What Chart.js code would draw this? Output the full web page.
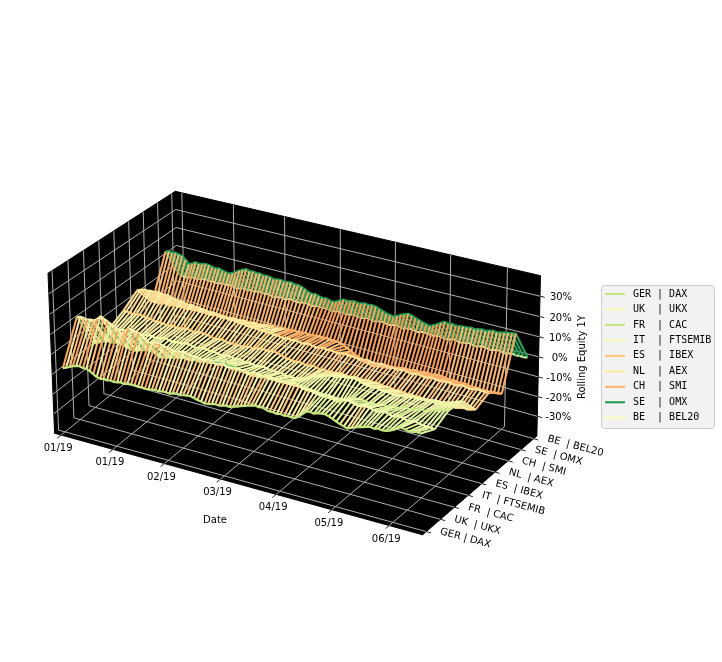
<!DOCTYPE html>
<html><head><meta charset="utf-8">
<style>html,body{margin:0;padding:0;background:#fff}canvas{display:block}</style>
<script src="https://cdn.jsdelivr.net/npm/chart.js@4"></script>
</head><body><canvas id="c" width="722" height="662" style="width:722px;height:662px"></canvas>
<script>
const seriesLabels=["GER | DAX","UK  | UKX","FR  | CAC","IT  | FTSEMIB","ES  | IBEX","NL  | AEX","CH  | SMI","SE  | OMX","BE  | BEL20"];
const seriesColors=["#c5e67e","#f9fcb6","#c5e67e","#f3f9ac","#fdc675","#fee99d","#fdb265","#199750","#feffbe"];
const xTickLabels=["01/19","01/19","02/19","03/19","04/19","05/19","06/19"];
const xTickDays=[-0.1,15.3,30.3,46.3,61.8,77,92.3];
const zTicks=[-30,-20,-10,0,10,20,30];
const GER=[-7.5,-6.8,-6,-5.2,-4.6,-4.3,-4.8,-4.7,-5.4,-6.5,
-7.5,-7.9,-7.5,-7.8,-7.4,-7.7,-7.4,-7,-7.3,-6.8,
-6.7,-6.5,-6.9,-6.6,-7,-6.8,-6.6,-6.2,-6.5,-6.1,
-6,-6.3,-5.7,-5.3,-5.6,-5.2,-4.9,-4.8,-5.2,-5.7,
-6,-6.5,-6.3,-5.9,-5.5,-5.7,-5.1,-4.8,-5,-4.4,
-3.9,-3.2,-2.6,-2,-1.6,-1,-1.4,-1.1,-1.7,-2.1,
-2,-2.4,-1.9,-2.3,-2,-2.2,-2,-0.8,0.9,2.5,
2.8,2.4,3.1,3.3,3.5,3,2.2,1.4,0.6,0,
-0.5,0.2,0.9,1.6,2,2.6,3,2.6,3.2,2.9,
3,3.6,4.4,5.6,6.5,6.1,5.6,5.9,6.3,6];
const UK=[12.75,13.2,13,12.6,13.1,13,14.2,16,15.2,14.4,
13.4,12.2,11,10,11.7,13.5,13.1,12.6,12.4,11.4,
10,8.7,9.4,10,9.6,9.3,8.8,8.5,8.1,8,
8.3,8.7,8.2,7.6,8,7.4,7,7.5,7.9,7.3,
6.8,7.2,7.6,7,6.6,6.9,7.4,7.1,7,6.6,
6.9,7.3,7,6.5,6.8,7.1,6.6,6.2,6.5,6.7,
6.3,6.7,7,6.4,5.9,5.5,5.8,5.2,5,4.7,
5.2,5.6,5,4.6,5,5.4,5.7,5.2,4.7,4.3,
4.6,5.1,4.8,4.2,3.9,4.3,4.7,4.1,3.6,3.9,
4.2,3.8,3.3,3.6,3.9,3.4,3,2.7,2.9,2.5];
const FR=[-6.5,-5.7,-4.9,-4,-3.3,-3.6,-3.2,-2.9,-3,-3.5,
-4,-4.5,-4.7,-4.2,-3.6,-3,-2.7,-2.5,-3.2,-4,
-4.6,-4.2,-3.7,-3.1,-2.7,-2.4,-2,-1.8,-2.2,-1.7,
-1.3,-1.6,-1,-0.6,-0.9,-0.4,0,0.4,0.2,0.7,
1,0.6,0.1,-0.5,-1,-1.4,-1.75,-1.3,-1.6,-1.1,
-0.8,-1.2,-1,-0.6,-0.9,-1.3,-0.8,-0.5,-0.9,-1.2,
-1,-0.7,-1.2,-1.6,-1.3,-1.7,-2.2,-2,-2.6,-3.2,
-3.5,-2.6,-1.5,-0.5,0.5,0.2,0.6,0.1,-0.3,0.2,
-0.25,0.3,0.7,0.4,0.9,1.3,1,1.6,2,1.8,
2.4,2.75,3.2,2.9,3.6,4.2,4.7,5.2,5.6,6];
const IT=[-5,-4.5,-4,-3.6,-3.2,-3.4,-3,-2.6,-3,-3.5,
-3.1,-2.7,-2.3,-2.6,-3,-2.5,-2.1,-1.8,-2.3,-2.7,
-2.4,-2.2,-2,-1.6,-1.9,-2.3,-2.6,-2.2,-1.8,-2,
-2.4,-2.1,-2.6,-3,-2.7,-2.3,-2.6,-3.1,-2.8,-3,
-3.4,-3.1,-3.5,-3.9,-3.5,-3.2,-3.6,-4.1,-4,-4.4,
-4.1,-4.6,-4.9,-4.6,-5,-4.6,-4.1,-3.5,-2.6,-1.8,
-1.2,-0.6,0.1,0.7,1.2,0.9,1.6,2.2,2,2.6,
3,2.4,1.7,1.1,0.8,0.5,0.9,0.4,0,0.3,
-0.1,-0.4,-0.2,0.3,0.1,0.6,1,0.7,1.1,1.5,
1.2,1.7,2.1,1.9,2.2,2.5,3,3.6,4.3,5];
const ES=[-1,-0.6,-0.9,-1.3,-0.8,-0.5,-1,-1.4,-1.3,-1.7,
-2,-1.7,-2,-2.4,-2.1,-1.9,-2.3,-2.2,-1.8,-1.5,
-1.9,-2.3,-1.8,-1.6,-1.9,-2,-2.5,-2.9,-2.6,-2.4,
-2.8,-3.2,-3,-3.4,-3.1,-3.3,-2.9,-2.5,-2.8,-2.2,
-2,-1.7,-2.1,-1.8,-1.5,-2,-2.6,-3,-3.5,-3.8,
-4,-3.6,-3.9,-4.3,-4,-3.7,-4.1,-4.5,-4.2,-4.6,
-4.3,-4.5,-4.1,-3.8,-4.2,-4.6,-4.3,-3.9,-4.2,-4.5,
-4.1,-3.8,-4.2,-4,-4.4,-4.8,-4.5,-5,-5.3,-4.9,
-5.2,-5.6,-5.3,-5.7,-5.4,-5.8,-6.1,-5.7,-6,-6.4,
-6.1,-6.5,-6.2,-5.8,-6.1,-5.6,-5.2,-5.5,-4.9,-4.5];
const NL=[4.5,5.2,5.8,5.6,6,5.8,6.3,6.1,5.7,6,
5.4,5,4.5,4.7,4,3.7,4,3.5,3.7,3.3,
3,2.6,2.9,2.4,1.9,1.6,1.9,1.4,1.7,1.2,
0.9,1.2,0.7,0.4,0.7,0.4,0,0.2,-0.2,0,
-0.4,-0.2,-0.6,-0.9,-0.6,-0.9,-0.5,-0.8,-1.1,-0.8,
-0.6,-1,-1.4,-1,-0.7,-1.1,-0.8,-1.2,-1.5,-1.1,
-0.8,-1.2,-0.9,-1.3,-1.7,-1.4,-1,-1.4,-1.8,-1.5,
-1.1,-1.5,-1.9,-1.6,-2,-1.7,-1.3,-1.7,-2.1,-1.8,
-1.4,-1.8,-2.2,-1.9,-1.5,-1.9,-2.2,-1.8,-1.5,-1.9,
-2.2,-1.8,-1.4,-1.8,-2.1,-1.7,-1.3,-1.6,-1.9,-1.5];
const CH=[-7.5,-7.1,-7.4,-6.8,-6.5,-6.9,-6.6,-6.2,-6.5,-6.2,
-6.5,-6,-6.3,-5.9,-5.7,-6.1,-5.8,-6.2,-6,-5.7,
-5.8,-5.6,-5.2,-5.5,-5.1,-4.8,-5.2,-4.8,-4.5,-4.9,
-4.4,-4.2,-4.5,-4.1,-3.8,-3.5,-3.5,-4,-3.5,-3.3,
-3.6,-3.2,-2.9,-3.3,-2.9,-2.6,-3,-2.8,-2.75,-2.4,
-2.7,-2.3,-2.6,-2.9,-2.7,-3.3,-4.1,-5,-6,-7.1,
-7.9,-8.7,-9.5,-10.1,-10.5,-10.2,-9.7,-9.9,-9.4,-9,
-8.7,-8.2,-7.9,-7.5,-7.8,-7.4,-7.1,-7.4,-7,-6.7,
-7,-6.7,-6.4,-6.6,-6.9,-7.2,-6.9,-7.3,-7.6,-7.2,
-7.5,-7.9,-7.6,-8,-8.3,-8,-8.2,-7.9,-7.7,-7.5];
const SE=[14.5,14.9,14.6,15,14.5,14.2,12.6,10.6,11.5,12.5,
12.1,12.6,13,12.8,12.3,12,12.4,11.7,11.3,11,
11.8,12.9,14,15,15.6,15.1,15.3,14.9,15.1,14.6,
14.9,14.5,14,14.3,14.5,14.1,14.3,14.5,14,14.1,
13.6,12.8,11.7,11.3,11.6,11,10.6,10.8,10.3,9.9,
10.6,11.6,12.5,12.2,12.6,12.9,12.5,12.8,13.2,12.9,
13.2,13,12.2,11.5,10.8,10.5,10.2,11,12,12.8,
13.4,13,12.3,11.6,10.9,10.4,10,10.9,11.8,13,
13.9,13.5,13.8,13.4,13.7,13.9,14,14.3,14,14.4,
14.8,14.5,15.1,15.5,15.2,15.6,16,16.3,16.6,17];
const BE=[-4.5,-4.1,-4.4,-3.9,-3.5,-3.8,-3.3,-3,-2.8,-3.2,
-2.9,-3.3,-2.9,-2.5,-2.8,-2.4,-2.7,-3.1,-2.7,-2.3,
-2.6,-2.2,-2.5,-2.1,-1.8,-2.2,-1.9,-2.3,-2.6,-2.2,
-1.9,-2.3,-1.9,-1.5,-1.9,-2.2,-1.8,-1.4,-1.7,-2.1,
-1.8,-1.4,-1.7,-1.3,-1.6,-2,-1.6,-1.2,-1.5,-1.8,
-1.4,-1,-1.3,-1.7,-1.3,-0.9,-1.3,-1.6,-1.2,-0.9,
-1.2,-1.6,-1.2,-0.8,-1.1,-1.5,-1.1,-0.7,-1,-1.4,
-1,-0.6,-1,-1.3,-0.9,-0.5,-0.9,-1.2,-0.8,-0.4,
-0.8,-1.1,-0.7,-0.3,-0.7,-1,-0.6,-0.2,-0.5,-0.9,
-0.5,-0.1,-0.4,-0.7,-0.3,0,-0.4,-0.2,-0.3,0];
const rows=[GER,UK,FR,IT,ES,NL,CH,SE,BE];

/* 3D box → picture projection */
const EL=25*Math.PI/180, AZ=-60*Math.PI/180, DIST=10;
const HX=0.775,HY=0.435,HZ=0.32, SX=275,SY=276,CX=295.5,CY=355.6;
const ZMIN=-40,ZMAX=40;
const w=[Math.cos(EL)*Math.cos(AZ),Math.cos(EL)*Math.sin(AZ),Math.sin(EL)];
const un=Math.hypot(w[0],w[1]);
const u=[-w[1]/un,w[0]/un,0];
const v=[w[1]*u[2]-w[2]*u[1],w[2]*u[0]-w[0]*u[2],w[0]*u[1]-w[1]*u[0]];
const dot=(a,b)=>a[0]*b[0]+a[1]*b[1]+a[2]*b[2];
function proj(fx,fy,fz){
  const d=[(2*fx-1)*HX,(2*fy-1)*HY,(2*fz-1)*HZ];
  const f=DIST/(DIST-dot(w,d));
  return {
    x:CX+SX*dot(u,d)*f-5*fx*(1-fy)-3*fx*fy*fz-2*(1-fx)*fy,
    y:CY-SY*dot(v,d)*f-(1-fx)*fy*(14-10*fz)
  };
}
const dayF=k=>0.02+0.96*k/99;
const rowF=i=>0.03+0.94*i/8;
const valF=z=>(z-ZMIN)/(ZMAX-ZMIN);

const ds=[];
function add(pts,color,width,fill){
  ds.push({data:pts,borderColor:color,borderWidth:width,pointRadius:0,showLine:true,tension:0,
    fill:fill?'shape':false,backgroundColor:fill||'transparent',borderCapStyle:'butt',borderJoinStyle:'round'});
}
/* panes */
add([proj(0,0,0),proj(0,1,0),proj(0,1,1),proj(0,0,1),proj(0,0,0)],'#000',1,'#000');
add([proj(0,1,0),proj(1,1,0),proj(1,1,1),proj(0,1,1),proj(0,1,0)],'#000',1,'#000');
add([proj(0,0,0),proj(1,0,0),proj(1,1,0),proj(0,1,0),proj(0,0,0)],'#000',1,'#000');
/* grid */
const GRID='#b0b0b0';
xTickDays.forEach(k=>{const f=dayF(k);
  add([proj(f,0,0),proj(f,1,0),proj(f,1,1)],GRID,1);});
rows.forEach((r,i)=>{const f=rowF(i);
  add([proj(1,f,0),proj(0,f,0),proj(0,f,1)],GRID,1);});
zTicks.forEach(z=>{const f=valF(z);
  add([proj(0,0,f),proj(0,1,f),proj(1,1,f)],GRID,1);});
/* ticks */
const TICK='#222';
xTickDays.forEach(k=>{const f=dayF(k);add([proj(f,0,0),proj(f,-0.03,0)],TICK,1);});
rows.forEach((r,i)=>{const f=rowF(i);add([proj(1,f,0),proj(1.012,f,0)],TICK,1);});
zTicks.forEach(z=>{const f=valF(z);add([proj(1,1,f),proj(1.012,1,f)],TICK,1);});
/* wireframe: back to front */
function crossColor(i,k,d){
  const alt=k%3===1;
  if(i===7) return '#2aa35a';
  if(i===6) return k>45&&k<85?(alt?'#f8a863':'#f59b58'):(alt?'#fbbd78':'#f8ae6b');
  if(i===5) return k<40?(alt?'#fdf0a8':'#fde39a'):(alt?'#fcc27c':'#f9ab66');
  if(i===4) return k<50?(alt?'#fdeea6':'#fdd68f'):(alt?'#fde0a0':'#fcc585');
  if(i===3) return alt?'#f8f4ae':'#f8e9a0';
  if(i===2) return alt?'#f3f8b0':'#eef2a4';
  if(i===1) return k<48&&k%3===0?'#6cc06a':(alt?'#f2f8b0':'#dcef9c');
  if(d>15) return alt?'#fde2a0':(k%3===0?'#f6a860':'#fbbf78');
  if(d>8)  return alt?'#fdf0a8':'#fdcd85';
  if(d>4)  return alt?'#f8f4ae':'#fbe59c';
  return alt?'#f2f8b0':'#dcef9c';
}
for(let i=rows.length-1;i>=0;i--){
  if(i<rows.length-1){
    rows[i].forEach((val,k)=>{
      const z2=rows[i+1][k];
      add([proj(dayF(k),rowF(i),valF(val)),proj(dayF(k),rowF(i+1),valF(z2))],crossColor(i,k,Math.abs(val-z2)),2.1);
    });
  }
  add(rows[i].map((val,k)=>proj(dayF(k),rowF(i),valF(val))),seriesColors[i],i===7?2.8:2.2);
}
/* text and legend */
const textPlugin={id:'txt',afterDatasetsDraw(ch){
  const c=ch.ctx,sx=ch.scales.x,sy=ch.scales.y;
  const P=p=>({x:sx.getPixelForValue(p.x),y:sy.getPixelForValue(p.y)});
  c.save();c.fillStyle='#000';c.font='10px "DejaVu Sans"';c.textBaseline='middle';
  c.textAlign='center';
  xTickLabels.forEach((t,i)=>{const p=P(proj(dayF(xTickDays[i]),0,0));c.fillText(t,p.x-3,p.y+13.5);});
  zTicks.forEach(z=>{const p=P(proj(1,1,valF(z)));c.fillText(z+'%',p.x+21,p.y+1.5);});
  c.fillText('Date',215,520);
  c.save();c.translate(582,357);c.rotate(-Math.PI/2);c.fillText('Rolling Equity 1Y',0,0);c.restore();
  c.textAlign='left';
  seriesLabels.forEach((t,i)=>{const p=P(proj(1,rowF(i),0));
    c.save();c.translate(p.x+14,p.y);c.rotate(15*Math.PI/180);c.fillText(t,0,0);c.restore();});
  /* legend */
  c.fillStyle='#f2f2f2';c.strokeStyle='#cccccc';c.lineWidth=1;
  c.beginPath();c.roundRect(601.5,285.5,113,143,3);c.fill();c.stroke();
  c.font='10px "DejaVu Sans Mono"';
  seriesLabels.forEach((t,i)=>{const y=294+i*15.47;
    c.strokeStyle=seriesColors[i];c.lineWidth=2;
    c.beginPath();c.moveTo(605,y);c.lineTo(625,y);c.stroke();
    c.fillStyle='#000';c.fillText(t,633,y);});
  c.restore();
}};
new Chart(document.getElementById('c'),{
  type:'scatter',
  data:{datasets:ds.reverse()},
  options:{responsive:false,animation:false,events:[],devicePixelRatio:1,
    layout:{padding:0},
    scales:{x:{type:'linear',min:0,max:722,display:false},y:{type:'linear',min:0,max:662,reverse:true,display:false}},
    plugins:{legend:{display:false},tooltip:{enabled:false},title:{display:false}}},
  plugins:[textPlugin]
});
</script></body></html>
